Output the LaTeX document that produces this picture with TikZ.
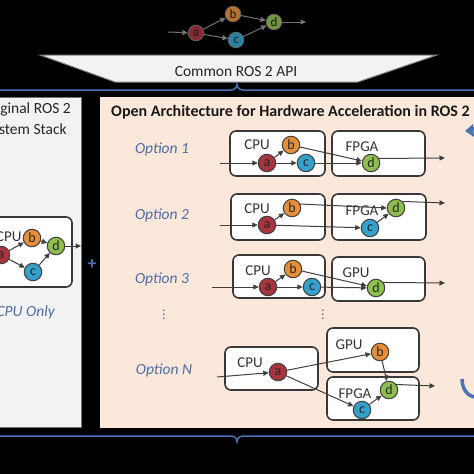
\documentclass[tikz,border=0pt]{standalone}
\usepackage{fontspec}
\setmainfont{Carlito}
\usetikzlibrary{arrows.meta}
\definecolor{arrgray}{HTML}{404040}
\definecolor{boxgray}{HTML}{383838}
\definecolor{nodeA}{HTML}{A8353D}
\definecolor{nodeB}{HTML}{E58F3A}
\definecolor{nodeC}{HTML}{36A0CC}
\definecolor{nodeD}{HTML}{8DBE4E}
\definecolor{optblue}{HTML}{4E6FA6}
\definecolor{braceblue}{HTML}{4A73B5}
\definecolor{peach}{HTML}{FCE8DA}
\definecolor{lgray}{HTML}{F2F2F2}
\begin{document}
\begin{tikzpicture}[x=1pt,y=-1pt,
  vx/.style={circle,draw=arrgray,line width=1pt,minimum size=17.5pt,inner sep=0pt,font=\fontsize{14}{14}\selectfont,text=black!85},
  va/.style={vx,fill=nodeA},
  vb/.style={vx,fill=nodeB},
  vc/.style={vx,fill=nodeC},
  vd/.style={vx,fill=nodeD},
  tv/.style={circle,draw=black!60,line width=0.8pt,minimum size=15.5pt,inner sep=0pt,font=\fontsize{13}{13}\selectfont,text=black!90},
  hw/.style={draw=boxgray,line width=1.6pt,rounded corners=6pt,fill=white},
  lbl/.style={font=\fontsize{15}{15}\selectfont,text=black!80,inner sep=0pt},
  opt/.style={font=\itshape\fontsize{15.5}{15.5}\selectfont,text=optblue,inner sep=0pt},
  con/.style={draw=arrgray,line width=1pt,-{Triangle[length=5.5pt,width=5pt]}},
  tcon/.style={draw=black!55,line width=1pt,-{Triangle[length=5.5pt,width=5pt]}},
  brace/.style={draw=braceblue,line width=1.5pt},
]
\useasboundingbox (0,0) rectangle (474,474);
\clip (0,0) rectangle (474,474);
\fill[black] (0,0) rectangle (474,474);

% top graph
\node[tv,fill=nodeA!80!black] (ta) at (196,33) {a};
\node[tv,fill=nodeB!80!black] (tb) at (233,14) {b};
\node[tv,fill=nodeC!80!black] (tc) at (236,40) {c};
\node[tv,fill=nodeD!80!black] (td) at (274,22) {d};
\coordinate (tin) at (168,32);
\coordinate (tout) at (306,22);
\draw[tcon] (tin) -- (ta);
\draw[tcon] (ta) -- (tb);
\draw[tcon] (ta) -- (tc);
\draw[tcon] (tb) -- (td);
\draw[tcon] (tc) -- (td);
\draw[tcon] (td) -- (tout);

% banner
\draw[fill=lgray,draw=black!50,line width=1pt] (40,55) -- (437,55) -- (358,82) -- (115,82) -- cycle;
\node[font=\fontsize{15.5}{15.5}\selectfont,text=black!85] (api) at (236,72) {Common ROS 2 API};

% braces
\draw[brace] (-2,90) -- (231,90) to[out=0,in=-90] (237,84.5) to[out=-90,in=180] (243,90) -- (476,90);
\draw[brace] (-2,436) -- (231,436) to[out=0,in=90] (237,441.5) to[out=90,in=180] (243,436) -- (476,436);

% left panel
\draw[fill=lgray,draw=black!55,line width=1pt] (-10,97) rectangle (81,427);
\node[align=center,anchor=north east,inner sep=0pt,text=black!85,font=\fontsize{15.5}{21}\selectfont] (orig) at (71,103) {Original ROS 2\\System Stack};
\draw[hw] (-30,217) rectangle (72,287);
\node[lbl,anchor=west] (lcpu) at (-4,237) {CPU};
\node[va] (la) at (1,255) {a};
\node[vb] (lb) at (32,238) {b};
\node[vc] (lc) at (33,272) {c};
\node[vd] (ld) at (56,246) {d};
\coordinate (lout) at (81,246);
\draw[con] (la) -- (lb);
\draw[con] (la) -- (lc);
\draw[con] (lb) -- (ld);
\draw[con] (lc) -- (ld);
\draw[con] (ld) -- (lout);
\node[opt,anchor=east] (cpuonly) at (55,312) {CPU Only};
\node[text=braceblue,font=\bfseries\fontsize{18}{18}\selectfont] (plus) at (92,265) {+};

% right panel
\fill[peach] (100,97) rectangle (480,428);
\node[font=\bfseries\fontsize{16}{16}\selectfont,text=black!90,anchor=west,inner sep=0pt] (title) at (111,112) {Open Architecture for Hardware Acceleration in ROS 2};

% blue arrow fragments at right edge
\draw[braceblue,line width=3pt] (478,127) -- (470,130);
\fill[braceblue] (465,131) -- (473,124) -- (474,137) -- cycle;
\draw[braceblue,line width=3.5pt] (462,379) to[out=-90,in=180] (476,397);

% option labels
\node[opt] (o1) at (162,149) {Option 1};
\node[opt] (o2) at (162,215) {Option 2};
\node[opt] (o3) at (162,279) {Option 3};
\node[opt] (oN) at (164,370) {Option N};
\node[text=optblue,font=\fontsize{14}{14}\selectfont] (dots1) at (164,312) {$\vdots$};
\node[text=black!60,font=\fontsize{14}{14}\selectfont] (dots2) at (323,312) {$\vdots$};

% Option 1
\draw[hw] (230,131) rectangle (325,176);
\draw[hw] (332,131) rectangle (425,176);
\node[lbl] (cpu1) at (257,145) {CPU};
\node[lbl] (fpga1) at (362,147) {FPGA};
\node[va] (a1) at (267,163) {a};
\node[vb] (b1) at (291,145) {b};
\node[vc] (c1) at (306,163) {c};
\node[vd] (d1) at (371,163) {d};
\coordinate (in1) at (220,163);
\coordinate (out1) at (445,158);
\draw[con] (in1) -- (a1);
\draw[con] (a1) -- (b1);
\draw[con] (a1) -- (c1);
\draw[con] (b1) -- (d1);
\draw[con] (c1) -- (d1);
\draw[con] (d1.north east) ++(0,2) -- (out1);

% Option 2
\draw[hw] (231,194) rectangle (325,240);
\draw[hw] (332,194) rectangle (426,240);
\node[lbl] (cpu2) at (257,209) {CPU};
\node[lbl] (fpga2) at (362,211) {FPGA};
\node[va] (a2) at (267,225) {a};
\node[vb] (b2) at (292,208) {b};
\node[vc] (c2) at (370,228) {c};
\node[vd] (d2) at (396,208) {d};
\coordinate (in2) at (220,225);
\coordinate (out2) at (445,203);
\draw[con] (in2) -- (a2);
\draw[con] (a2) -- (b2);
\draw[con] (b2.north east) ++(0,2.5) -- (d2.west);
\draw[con] (a2) -- (c2);
\draw[con] (c2) -- (d2);
\draw[con] (d2.north east) ++(0,0) -- (out2);

% Option 3
\draw[hw] (233,255) rectangle (325,298);
\draw[hw] (332,257) rectangle (425,301);
\node[lbl] (cpu3) at (258,271) {CPU};
\node[lbl] (gpu3) at (356,273) {GPU};
\node[va] (a3) at (268,287) {a};
\node[vb] (b3) at (293,269) {b};
\node[vc] (c3) at (312,287) {c};
\node[vd] (d3) at (376,288) {d};
\coordinate (in3) at (212,287);
\coordinate (out3) at (445,283);
\draw[con] (in3) -- (a3);
\draw[con] (a3) -- (b3);
\draw[con] (a3) -- (c3);
\draw[con] (b3) -- (d3);
\draw[con] (c3) -- (d3);
\draw[con] (d3.north east) ++(0,1) -- (out3);

% Option N
\draw[hw] (225,347) rectangle (318,390);
\draw[hw] (327,328) rectangle (419,372);
\draw[hw] (327,377) rectangle (419,420);
\node[lbl] (cpuN) at (250,363) {CPU};
\node[lbl] (gpuN) at (349,345) {GPU};
\node[lbl] (fpgaN) at (355,394) {FPGA};
\node[va] (aN) at (278,372) {a};
\node[vb] (bN) at (380,352) {b};
\node[vc] (cN) at (362,410) {c};
\node[vd] (dN) at (389,390) {d};
\coordinate (inN) at (217,377);
\coordinate (outN) at (435,386);
\draw[con] (inN) -- (aN);
\draw[con] (aN) -- (bN);
\draw[con] (aN) -- (cN);
\draw[con] (bN) -- (dN);
\draw[con] (cN) -- (dN);
\draw[con] (dN.north east) ++(0,1) -- (outN);
\end{tikzpicture}
\end{document}
